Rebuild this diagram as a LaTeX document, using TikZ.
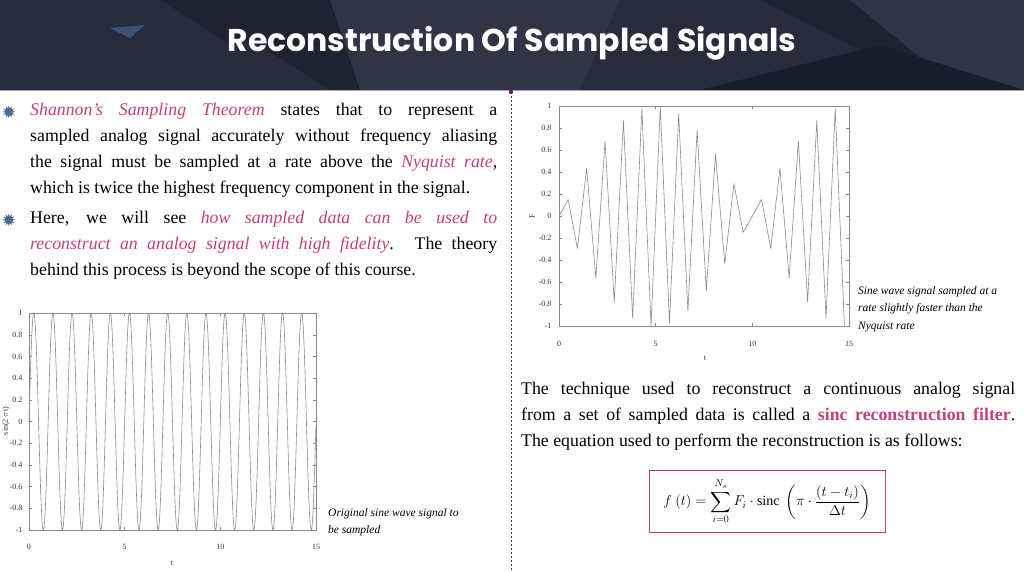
\documentclass[tikz,border=0pt]{standalone}
\usepackage{fontspec}
\setmainfont{Liberation Serif}
\newfontfamily\titlefont{Poppins}
\usepackage{amsmath}
\definecolor{hdr}{HTML}{1E2332}
\definecolor{hdrA}{HTML}{262C3C}
\definecolor{hdrB}{HTML}{2F3546}
\definecolor{hdrC}{HTML}{3E5275}
\definecolor{pinkt}{HTML}{C4407C}
\definecolor{starc}{HTML}{4A6A90}
\definecolor{divc}{HTML}{6A1E4A}
\definecolor{boxc}{HTML}{B83C74}
\definecolor{plotc}{HTML}{8A8A8A}
\tikzset{
  tick/.style={font=\fontsize{8}{9}\selectfont, text=black!80},
  frame/.style={draw=plotc, line width=0.6pt},
  curve/.style={draw=plotc, line width=0.6pt, line join=round},
  body/.style={anchor=north west, inner sep=0pt, font=\fontsize{17.8}{26}\selectfont, align=justify},
  capt/.style={anchor=north west, inner sep=0pt, font=\itshape\fontsize{11.5}{17.5}\selectfont, align=left},
  bullet/.style={text=starc, font=\fontsize{17}{17}\selectfont, inner sep=0pt}
}
\newfontfamily\symfont{DejaVu Sans}
\begin{document}
\begin{tikzpicture}[x=1pt,y=-1pt]
\useasboundingbox (0,0) rectangle (1024,571);
\fill[white] (0,0) rectangle (1024,571);
% header
\fill[hdr] (0,0) rectangle (1024,90);
\fill[hdrA] (0,0) -- (160,0) -- (300,90) -- (0,90) -- cycle;
\fill[hdrB] (330,0) -- (620,0) -- (600,90) -- (360,90) -- cycle;
\fill[hdrA] (620,0) -- (760,0) -- (940,90) -- (580,90) -- cycle;
\fill[hdrB] (850,0) -- (1024,0) -- (1024,90) -- (960,90) -- cycle;
\fill[hdrA] (100,90) -- (250,40) -- (330,90) -- cycle;
\fill[hdrC] (110,28) -- (145,25) -- (130,38) -- cycle;
\fill[hdr!85!black] (700,90) -- (880,45) -- (1024,90) -- cycle;
\draw[white!60!hdr, line width=0.4pt] (0,90) -- (1024,90);
\node[text=white, font=\titlefont\bfseries\fontsize{31.5}{33}\selectfont] (title) at (512,43) {Reconstruction Of Sampled Signals};
% divider
\coordinate (dtop) at (511,92);
\coordinate (dbot) at (511,571);
\fill[divc] (dtop) circle (2.2);
\draw[divc, dashed, dash pattern=on 2pt off 2pt, line width=0.8pt] (dtop) -- (dbot);
% bullets
\node[bullet] (b1) at (9,112) {\symfont ✹};
\node[bullet] (b2) at (9,220) {\symfont ✹};
\node[body, text width=467pt] (p1) at (30,103) {{\color{pinkt}\itshape Shannon's Sampling Theorem} states that to represent a\linebreak sampled analog signal accurately without frequency aliasing\linebreak the signal must be sampled at a rate above the {\color{pinkt}\itshape Nyquist rate},\linebreak which is twice the highest frequency component in the signal.};
\node[body, text width=467pt] (p2) at (30,211) {Here, we will see {\color{pinkt}\itshape how sampled data can be used to}\linebreak {\color{pinkt}\itshape reconstruct an analog signal with high fidelity}. The theory\linebreak behind this process is beyond the scope of this course.};
% left plot
\begin{scope}
\draw[frame] (29,313) rectangle (316,530);
\foreach \v/\l in {1/1,0.8/0.8,0.6/0.6,0.4/0.4,0.2/0.2,0/0,-0.2/-0.2,-0.4/-0.4,-0.6/-0.6,-0.8/-0.8,-1/-1} {
  \draw[plotc] (29,421.5-108.5*\v) -- ++(3,0);
  \draw[plotc] (316,421.5-108.5*\v) -- ++(-3,0);
  \node[tick, anchor=east] at (26,421.5-108.5*\v) {\l};
}
\foreach \t in {0,5,10,15} {
  \draw[plotc] (29+\t*287/15,530) -- ++(0,-3);
  \draw[plotc] (29+\t*287/15,313) -- ++(0,3);
  \node[tick, anchor=north] at (29+\t*287/15,541) {\t};
}
\node[tick] at (172,563) {t};
\node[tick, rotate=90] at (6,421) {sin(2 $\pi$t)};
\draw[curve] plot[domain=0:15, samples=900, smooth] ({29+\x*287/15},{421.5-108.5*sin(360*\x)});
\end{scope}
\node[capt] (c1) at (328,508) {Original sine wave signal to\\be sampled};
% right plot
\begin{scope}
\draw[frame] (559,106) rectangle (849,326);
\foreach \v/\l in {1/1,0.8/0.8,0.6/0.6,0.4/0.4,0.2/0.2,0/0,-0.2/-0.2,-0.4/-0.4,-0.6/-0.6,-0.8/-0.8,-1/-1} {
  \draw[plotc] (559,216-110*\v) -- ++(3,0);
  \draw[plotc] (849,216-110*\v) -- ++(-3,0);
  \node[tick, anchor=east] at (555,216-110*\v) {\l};
}
\foreach \t in {0,5,10,15} {
  \draw[plotc] (559+\t*290/15,326) -- ++(0,-3);
  \draw[plotc] (559+\t*290/15,106) -- ++(0,3);
  \node[tick, anchor=north] at (559+\t*290/15,338) {\t};
}
\node[tick] at (705,358) {t};
\node[tick, rotate=90] at (532,216) {F};
\draw[curve] plot[domain=0:31, samples=32] ({559+\x*9.2063},{216-110*sin(171.4286*\x)});
\end{scope}
\node[capt] (c2) at (858,286) {Sine wave signal sampled at a\\rate slightly faster than the\\Nyquist rate};
% right paragraph
\node[body, text width=494pt] (p3) at (521,382) {The technique used to reconstruct a continuous analog signal\linebreak from a set of sampled data is called a {\color{pinkt}\bfseries sinc reconstruction filter}.\linebreak The equation used to perform the reconstruction is as follows:};
% equation
\node[draw=boxc, line width=1pt, minimum width=236pt, minimum height=62pt, inner sep=0pt, font=\fontsize{14}{16}\selectfont] (eq) at (767,501)
 {$f\ (t) = \displaystyle\sum\limits_{i=0}^{N_s\vphantom{|}} F_i\cdot \mathrm{sinc}\ \left(\pi\cdot\frac{(t-t_i)}{\Delta t}\right)$};
\end{tikzpicture}
\end{document}
